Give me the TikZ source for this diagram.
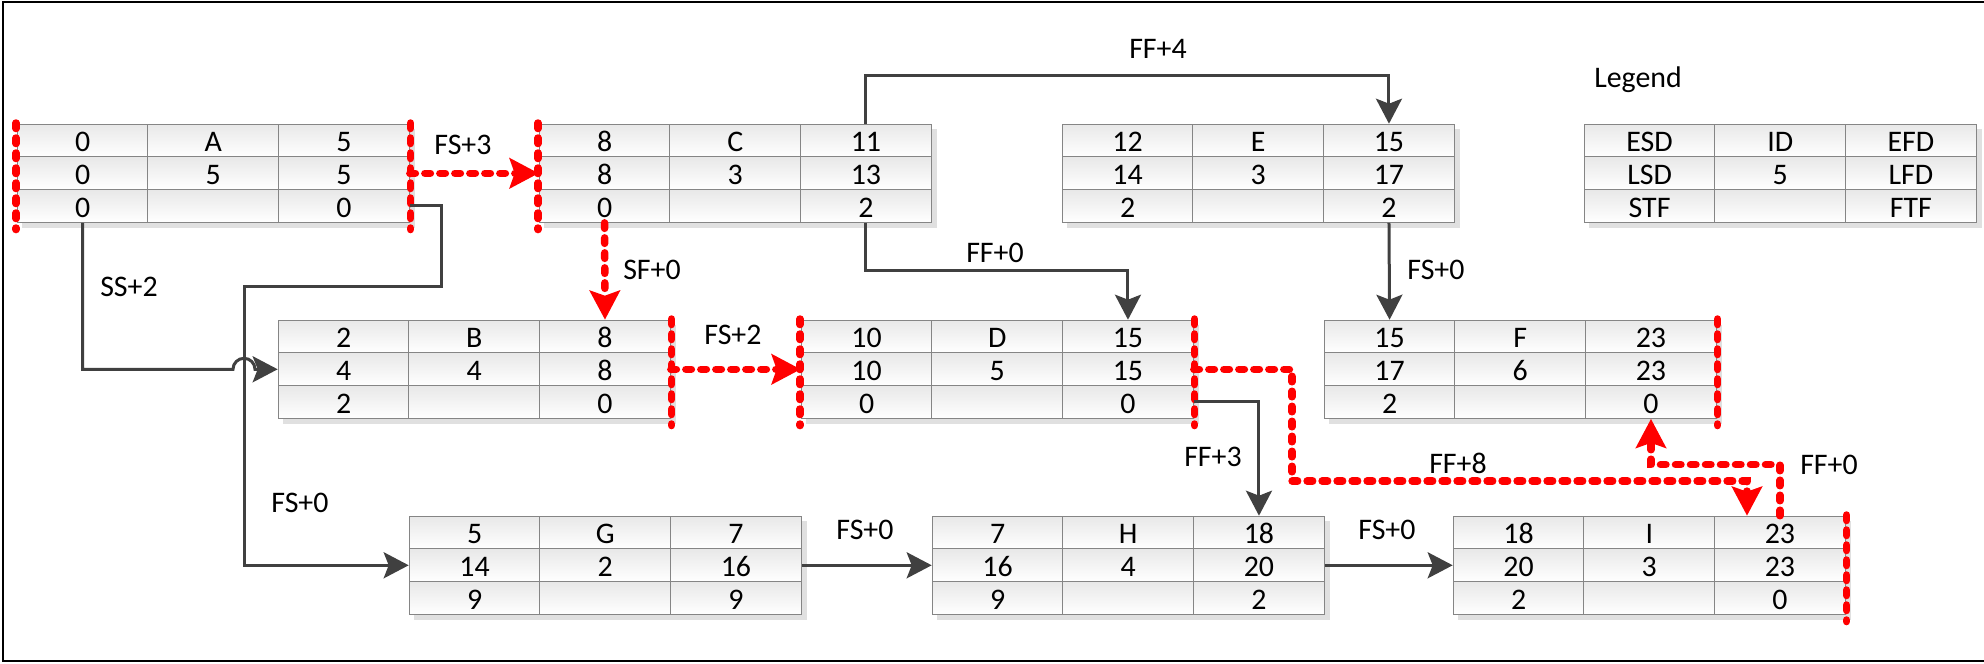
\documentclass[tikz,border=0pt]{standalone}
\usepackage{fontspec}
\setmainfont{Carlito}
\usepackage{xcolor}
\usepackage{tikz}
\usetikzlibrary{matrix, shadows, arrows.meta, calc}
\definecolor{linkgray}{HTML}{404040}
\definecolor{cellline}{HTML}{858585}

\begin{document}
\begin{tikzpicture}[x=0.1mm, y=-0.1mm, font=\fontsize{8.5}{10}\selectfont,
    cell/.style={draw=cellline, line width=0.3pt, top color=black!9, bottom color=white, minimum width=13.07mm, minimum height=3.27mm, inner sep=0pt, text height=0.63em, text depth=0pt},
    acttab/.style={matrix of nodes, nodes in empty cells, anchor=north west, inner sep=0pt, column sep=-0.3pt, row sep=-0.3pt, nodes={cell}, drop shadow={shadow xshift=0.5mm, shadow yshift=-0.5mm, fill=black!12, opacity=1}},
    link/.style={draw=linkgray, line width=0.3mm, -{Stealth[length=2.5mm, width=2.6mm, inset=0.5mm]}},
    crit/.style={draw=red, line width=0.75mm, line cap=round, dash pattern=on 0.55mm off 0.95mm, -{Stealth[length=2.9mm, width=3mm, inset=0.5mm]}},
    critside/.style={draw=red, line width=0.75mm, line cap=round, dash pattern=on 0.55mm off 0.95mm},
    lbl/.style={inner sep=0pt}]
    \useasboundingbox (0,0) rectangle (1984,663);
    \draw[line width=0.6pt] (1984,2) -- (3,2) -- (3,661) -- (1984,661);

    % activities
    \matrix (A) [acttab] at (16,123) {0 & A & 5 \\ 0 & 5 & 5 \\ 0 & & 0 \\};
    \matrix (C) [acttab] at (538,123) {8 & C & 11 \\ 8 & 3 & 13 \\ 0 & & 2 \\};
    \matrix (E) [acttab] at (1061,123) {12 & E & 15 \\ 14 & 3 & 17 \\ 2 & & 2 \\};
    \matrix (B) [acttab] at (277,319) {2 & B & 8 \\ 4 & 4 & 8 \\ 2 & & 0 \\};
    \matrix (D) [acttab] at (800,319) {10 & D & 15 \\ 10 & 5 & 15 \\ 0 & & 0 \\};
    \matrix (F) [acttab] at (1323,319) {15 & F & 23 \\ 17 & 6 & 23 \\ 2 & & 0 \\};
    \matrix (G) [acttab] at (408,515) {5 & G & 7 \\ 14 & 2 & 16 \\ 9 & & 9 \\};
    \matrix (H) [acttab] at (931,515) {7 & H & 18 \\ 16 & 4 & 20 \\ 9 & & 2 \\};
    \matrix (I) [acttab] at (1452,515) {18 & I & 23 \\ 20 & 3 & 23 \\ 2 & & 0 \\};

    % legend
    \node[lbl] (leg) at (1638,80) {Legend};
    \matrix (L) [acttab] at (1583,123) {ESD & ID & EFD \\ LSD & 5 & LFD \\ STF & & FTF \\};

    % critical path marks
    \draw[critside] (A.north west) -- ([yshift=-0.6mm]A.south west);
    \draw[critside] (A.north east) -- ([yshift=-0.6mm]A.south east);
    \draw[critside] (C.north west) -- ([yshift=-0.6mm]C.south west);
    \draw[critside] (B.north east) -- ([yshift=-0.6mm]B.south east);
    \draw[critside] (D.north west) -- ([yshift=-0.6mm]D.south west);
    \draw[critside] (D.north east) -- ([yshift=-0.6mm]D.south east);
    \draw[critside] (F.north east) -- ([yshift=-0.6mm]F.south east);
    \draw[critside] (I.north east) -- ([yshift=-0.6mm]I.south east);

    % links
    \coordinate (ag1) at (441,286);
    \coordinate (ag2) at (244,286);
    \coordinate (ff8) at (1747,481);
    \draw[link] (A-3-3.east) -| (ag1) -- (ag2) |- (G-2-1.west);
    \draw[link] (A-3-1.south) |- ([xshift=-1.1mm]ag2 |- B-2-1.west) arc[start angle=180, end angle=0, radius=1.1mm] -- (B-2-1.west);
    \draw[link] (C-1-3.north) -- ++(0,-48) -| (E-1-3.north);
    \draw[link] (C-3-3.south) -- ++(0,48) -| (D-1-3.north);
    \draw[link] (E-3-3.south) -- (F-1-1.north);
    \draw[link] (D-3-3.east) -| (H-1-3.north);
    \draw[link] (G-2-3.east) -- (H-2-1.west);
    \draw[link] (H-2-3.east) -- (I-2-1.west);
    \draw[crit] (A-2-3.east) -- (C-2-1.west);
    \draw[crit] (C-3-1.south) -- (B-1-3.north);
    \draw[crit] (B-2-3.east) -- (D-2-1.west);
    \draw[crit] (D-2-3.east) -- ++(98,0) |- (ff8) -- (ff8 |- I-1-3.north);
    \draw[crit] (I-1-3.north) -- ++(0,-51) -| (F-3-3.south);

    % lags
    \node[lbl] (lac) at (463,145) {FS+3};
    \node[lbl] (lab) at (129,287) {SS+2};
    \node[lbl] (lag) at (300,503) {FS+0};
    \node[lbl] (lcb) at (652,270) {SF+0};
    \node[lbl] (lce) at (1158,49) {FF+4};
    \node[lbl] (lcd) at (995,253) {FF+0};
    \node[lbl] (lbd) at (733,335) {FS+2};
    \node[lbl] (lef) at (1436,270) {FS+0};
    \node[lbl] (ldh) at (1213,457) {FF+3};
    \node[lbl] (ldi) at (1458,463) {FF+8};
    \node[lbl] (lif) at (1829,465) {FF+0};
    \node[lbl] (lgh) at (865,530) {FS+0};
    \node[lbl] (lhi) at (1387,530) {FS+0};
\end{tikzpicture}
\end{document}
